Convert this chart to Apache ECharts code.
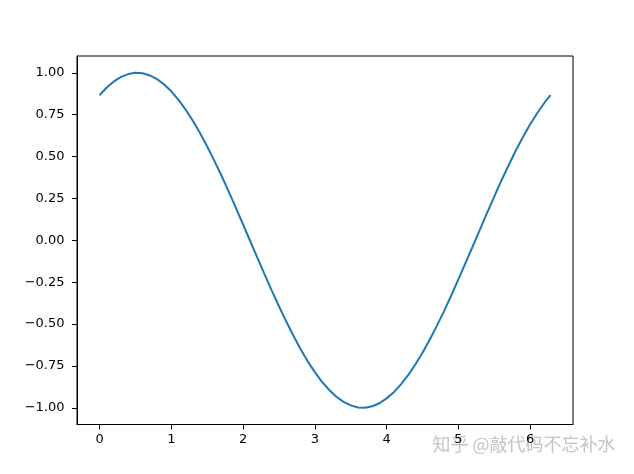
<!DOCTYPE html>
<html>
<head>
<meta charset="utf-8">
<script src="https://cdn.jsdelivr.net/npm/echarts@6/dist/echarts.min.js"></script>
<style>
html,body{margin:0;padding:0;background:#fff;}
#c{width:634px;height:474px;}
</style>
</head>
<body>
<div id="c"></div>
<script>
const xValues = [0.0, 0.1, 0.2, 0.3, 0.4, 0.5, 0.6, 0.7, 0.8, 0.9,
  1.0, 1.1, 1.2, 1.3, 1.4, 1.5, 1.6, 1.7, 1.8, 1.9,
  2.0, 2.1, 2.2, 2.3, 2.4, 2.5, 2.6, 2.7, 2.8, 2.9,
  3.0, 3.1, 3.2, 3.3, 3.4, 3.5, 3.6, 3.7, 3.8, 3.9,
  4.0, 4.1, 4.2, 4.3, 4.4, 4.5, 4.6, 4.7, 4.8, 4.9,
  5.0, 5.1, 5.2, 5.3, 5.4, 5.5, 5.6, 5.7, 5.8, 5.9,
  6.0, 6.1, 6.2, 6.283];
const yValues = [0.866, 0.912, 0.948, 0.975, 0.992, 1.000, 0.997, 0.984, 0.962, 0.930,
  0.889, 0.838, 0.780, 0.713, 0.640, 0.560, 0.474, 0.385, 0.290, 0.193,
  0.094, -0.006, -0.105, -0.204, -0.301, -0.394, -0.484, -0.569, -0.649, -0.723,
  -0.787, -0.846, -0.894, -0.934, -0.965, -0.986, -0.998, -0.9995, -0.991, -0.973,
  -0.944, -0.907, -0.860, -0.805, -0.742, -0.671, -0.594, -0.511, -0.423, -0.330,
  -0.234, -0.135, -0.036, 0.064, 0.163, 0.261, 0.357, 0.448, 0.536, 0.616,
  0.692, 0.760, 0.821, 0.866];
const xTicks = [0, 1, 2, 3, 4, 5, 6];
const yTicks = [-1.00, -0.75, -0.50, -0.25, 0.00, 0.25, 0.50, 0.75, 1.00];
const watermark = '知乎 @敲代码不忘补水';

const points = xValues.map((x, i) => [x, yValues[i]]);
const font = 'DejaVu Sans';
const chart = echarts.init(document.getElementById('c'), null, {renderer: 'canvas'});
chart.setOption({
  backgroundColor: '#fff',
  animation: false,
  grid: {left: 77, right: 61, top: 56, bottom: 49.5, show: true, borderColor: '#000', borderWidth: 1, backgroundColor: 'transparent'},
  xAxis: {
    type: 'value', min: -0.314159, max: 6.597,
    axisLine: {show: true, onZero: false, lineStyle: {color: '#000', width: 1}},
    axisTick: {show: true, inside: false, length: 5, customValues: xTicks, lineStyle: {color: '#000', width: 1}},
    axisLabel: {show: true, customValues: xTicks, margin: 9, color: '#000', fontFamily: font, fontSize: 13, formatter: v => String(v)},
    splitLine: {show: false}
  },
  yAxis: {
    type: 'value', min: -1.1, max: 1.1,
    axisLine: {show: true, onZero: false, lineStyle: {color: '#000', width: 1}},
    axisTick: {show: true, inside: false, length: 5, customValues: yTicks, lineStyle: {color: '#000', width: 1}},
    axisLabel: {show: true, customValues: yTicks, margin: 12.5, color: '#000', fontFamily: font, fontSize: 13,
      formatter: v => (v < 0 ? '\u2212' : '') + Math.abs(v).toFixed(2)},
    splitLine: {show: false}
  },
  series: [{
    type: 'line', data: points, showSymbol: false, smooth: false,
    lineStyle: {color: '#1f77b4', width: 2}, itemStyle: {color: '#1f77b4'}
  }],
  graphic: [{
    type: 'text', right: 18, top: 435,
    style: {text: watermark, fill: '#c4c4c4', stroke: '#ffffff', lineWidth: 1, font: '18px "Noto Sans CJK SC"'}
  }]
});
</script>
</body>
</html>
